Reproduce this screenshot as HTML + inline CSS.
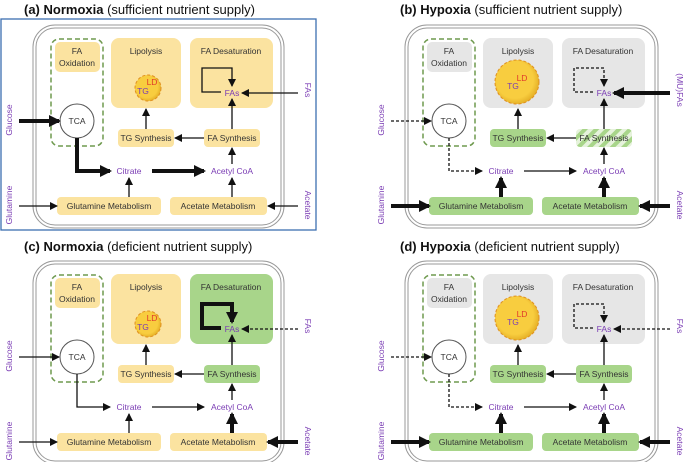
<!DOCTYPE html>
<html><head><meta charset="utf-8"><style>
html,body{margin:0;padding:0;background:#fff;}
svg{display:block;font-family:"Liberation Sans",sans-serif;}
.t{font-size:8.5px;fill:#333;text-anchor:middle;}
.p{font-size:8.5px;fill:#7a3cb4;text-anchor:middle;}
.title{font-size:13px;fill:#111;}
.ln{fill:none;stroke:#111;stroke-width:1.3;}
.thk{fill:none;stroke:#111;stroke-width:4;}
.ds{stroke-dasharray:3,2;}
</style></head><body>
<svg width="685" height="462" viewBox="0 0 685 462" xmlns="http://www.w3.org/2000/svg">
<defs>
<marker id="s" markerUnits="userSpaceOnUse" markerWidth="8" markerHeight="8" refX="7" refY="4" orient="auto"><path d="M0,0 L8,4 L0,8 z" fill="#111"/></marker>
<marker id="b" markerUnits="userSpaceOnUse" markerWidth="12" markerHeight="12" refX="10" refY="6" orient="auto"><path d="M0,0 L12,6 L0,12 z" fill="#111"/></marker>
<pattern id="hatch" patternUnits="userSpaceOnUse" width="8" height="8" patternTransform="rotate(45)"><rect width="8" height="8" fill="#e6f2dc"/><rect width="4" height="8" fill="#a8d58a"/></pattern>
<radialGradient id="ld" cx="0.45" cy="0.45" r="0.6"><stop offset="0.7" stop-color="#f8cd3f"/><stop offset="1" stop-color="#e0a820"/></radialGradient>
</defs>

<text x="24" y="14" class="title"><tspan font-weight="bold">(a) Normoxia</tspan>  (sufficient nutrient supply)</text>
<text x="400" y="14" class="title"><tspan font-weight="bold">(b) Hypoxia</tspan>  (sufficient nutrient supply)</text>
<text x="24" y="251" class="title"><tspan font-weight="bold">(c) Normoxia</tspan>  (deficient nutrient supply)</text>
<text x="400" y="251" class="title"><tspan font-weight="bold">(d) Hypoxia</tspan>  (deficient nutrient supply)</text>
<rect x="1" y="19" width="315" height="211" fill="none" stroke="#3d6fb0" stroke-width="1.3"/>

<!-- PANEL A -->
<g>
<rect x="33" y="25" width="251" height="203" rx="22" fill="none" stroke="#999" stroke-width="1"/>
<rect x="36" y="28" width="245" height="197" rx="19" fill="none" stroke="#999" stroke-width="1"/>
<rect x="55" y="42" width="45" height="30" rx="5" fill="#fbe3a0"/>
<rect x="111" y="38" width="70" height="70" rx="8" fill="#fbe3a0"/>
<rect x="190" y="38" width="83" height="70" rx="8" fill="#fbe3a0"/>
<rect x="51" y="39" width="52" height="107" rx="8" fill="none" stroke="#6f9a4f" stroke-width="1.5" stroke-dasharray="5,3"/>
<text x="77" y="54" class="t">FA</text><text x="77" y="66" class="t">Oxidation</text>
<text x="146" y="54" class="t">Lipolysis</text><text x="231" y="54" class="t">FA Desaturation</text>
<circle cx="148" cy="88" r="13" fill="url(#ld)" stroke="#e09020" stroke-dasharray="3,2"/>
<text x="152" y="85" class="t" style="fill:#e03a2a">LD</text><text x="143" y="94" class="p">TG</text>
<circle cx="77" cy="121" r="17" fill="#fff" stroke="#555"/><text x="77" y="124" class="t">TCA</text>
<rect x="118" y="129" width="56" height="18" rx="4" fill="#fbe3a0"/><text x="146" y="141" class="t">TG Synthesis</text>
<rect x="204" y="129" width="56" height="18" rx="4" fill="#fbe3a0"/><text x="232" y="141" class="t">FA Synthesis</text>
<text x="129" y="174" class="p">Citrate</text><text x="232" y="174" class="p">Acetyl CoA</text>
<text x="232" y="96" class="p">FAs</text>
<rect x="57" y="197" width="104" height="18" rx="4" fill="#fbe3a0"/><text x="109" y="209" class="t">Glutamine Metabolism</text>
<rect x="170" y="197" width="97" height="18" rx="4" fill="#fbe3a0"/><text x="218" y="209" class="t">Acetate Metabolism</text>
<text class="p" transform="translate(12,120) rotate(-90)">Glucose</text>
<text class="p" transform="translate(12,205) rotate(-90)">Glutamine</text>
<text class="p" transform="translate(305,90) rotate(90)">FAs</text>
<text class="p" transform="translate(305,205) rotate(90)">Acetate</text>
<path d="M19,121 L59,121" class="thk" marker-end="url(#b)"/>
<path d="M77,138 L77,171 L110,171" class="thk" marker-end="url(#b)"/>
<path d="M152,171 L204,171" class="thk" marker-end="url(#b)"/>
<path d="M129,197 L129,178" class="ln" marker-end="url(#s)"/>
<path d="M232,197 L232,178" class="ln" marker-end="url(#s)"/>
<path d="M232,164 L232,148" class="ln" marker-end="url(#s)"/>
<path d="M204,138 L175,138" class="ln" marker-end="url(#s)"/>
<path d="M146,129 L146,109" class="ln" marker-end="url(#s)"/>
<path d="M232,129 L232,99" class="ln" marker-end="url(#s)"/>
<path d="M298,93 L242,93" class="ln" marker-end="url(#s)"/>
<path d="M19,206 L57,206" class="ln" marker-end="url(#s)"/>
<path d="M298,206 L268,206" class="ln" marker-end="url(#s)"/>
<path d="M221,92 L202,92 L202,68 L232,68 L232,86" class="ln" marker-end="url(#s)"/>
</g>

<!-- PANEL B -->
<g transform="translate(372,0)">
<rect x="33" y="25" width="253" height="203" rx="22" fill="none" stroke="#999"/>
<rect x="36" y="28" width="247" height="197" rx="19" fill="none" stroke="#999"/>
<rect x="55" y="42" width="45" height="30" rx="5" fill="#e6e6e6"/>
<rect x="111" y="38" width="70" height="70" rx="8" fill="#e6e6e6"/>
<rect x="190" y="38" width="83" height="70" rx="8" fill="#e6e6e6"/>
<rect x="51" y="39" width="52" height="107" rx="8" fill="none" stroke="#6f9a4f" stroke-width="1.5" stroke-dasharray="5,3"/>
<text x="77" y="54" class="t">FA</text><text x="77" y="66" class="t">Oxidation</text>
<text x="146" y="54" class="t">Lipolysis</text><text x="231" y="54" class="t">FA Desaturation</text>
<circle cx="145" cy="82" r="22" fill="url(#ld)" stroke="#e09020" stroke-dasharray="3,2"/>
<text x="150" y="81" class="t" style="fill:#e03a2a">LD</text><text x="141" y="89" class="p">TG</text>
<circle cx="77" cy="121" r="17" fill="#fff" stroke="#555"/><text x="77" y="124" class="t">TCA</text>
<rect x="118" y="129" width="56" height="18" rx="4" fill="#a8d58a"/><text x="146" y="141" class="t">TG Synthesis</text>
<rect x="204" y="129" width="56" height="18" rx="4" fill="url(#hatch)"/><text x="232" y="141" class="t">FA Synthesis</text>
<text x="129" y="174" class="p">Citrate</text><text x="232" y="174" class="p">Acetyl CoA</text>
<text x="232" y="96" class="p">FAs</text>
<rect x="57" y="197" width="104" height="18" rx="4" fill="#a8d58a"/><text x="109" y="209" class="t">Glutamine Metabolism</text>
<rect x="170" y="197" width="97" height="18" rx="4" fill="#a8d58a"/><text x="218" y="209" class="t">Acetate Metabolism</text>
<text class="p" transform="translate(12,120) rotate(-90)">Glucose</text>
<text class="p" transform="translate(12,205) rotate(-90)">Glutamine</text>
<text class="p" transform="translate(305,90) rotate(90)">(MU)FAs</text>
<text class="p" transform="translate(305,205) rotate(90)">Acetate</text>
<path d="M19,121 L59,121" class="ln ds" marker-end="url(#s)"/>
<path d="M77,138 L77,171 L110,171" class="ln ds" marker-end="url(#s)"/>
<path d="M152,171 L204,171" class="ln" marker-end="url(#s)"/>
<path d="M129,197 L129,178" class="thk" marker-end="url(#b)"/>
<path d="M232,197 L232,178" class="thk" marker-end="url(#b)"/>
<path d="M232,164 L232,148" class="ln" marker-end="url(#s)"/>
<path d="M204,138 L175,138" class="ln" marker-end="url(#s)"/>
<path d="M146,129 L146,109" class="ln" marker-end="url(#s)"/>
<path d="M232,129 L232,99" class="ln" marker-end="url(#s)"/>
<path d="M298,93 L242,93" class="thk" marker-end="url(#b)"/>
<path d="M19,206 L57,206" class="thk" marker-end="url(#b)"/>
<path d="M298,206 L268,206" class="thk" marker-end="url(#b)"/>
<path d="M221,92 L202,92 L202,68 L232,68 L232,86" class="ln ds" marker-end="url(#s)"/>
</g>

<!-- PANEL C -->
<g transform="translate(0,236)">
<rect x="33" y="25" width="251" height="203" rx="22" fill="none" stroke="#999"/>
<rect x="36" y="28" width="245" height="197" rx="19" fill="none" stroke="#999"/>
<rect x="55" y="42" width="45" height="30" rx="5" fill="#fbe3a0"/>
<rect x="111" y="38" width="70" height="70" rx="8" fill="#fbe3a0"/>
<rect x="190" y="38" width="83" height="70" rx="8" fill="#a8d58a"/>
<rect x="51" y="39" width="52" height="107" rx="8" fill="none" stroke="#6f9a4f" stroke-width="1.5" stroke-dasharray="5,3"/>
<text x="77" y="54" class="t">FA</text><text x="77" y="66" class="t">Oxidation</text>
<text x="146" y="54" class="t">Lipolysis</text><text x="231" y="54" class="t">FA Desaturation</text>
<circle cx="148" cy="88" r="13" fill="url(#ld)" stroke="#e09020" stroke-dasharray="3,2"/>
<text x="152" y="85" class="t" style="fill:#e03a2a">LD</text><text x="143" y="94" class="p">TG</text>
<circle cx="77" cy="121" r="17" fill="#fff" stroke="#555"/><text x="77" y="124" class="t">TCA</text>
<rect x="118" y="129" width="56" height="18" rx="4" fill="#fbe3a0"/><text x="146" y="141" class="t">TG Synthesis</text>
<rect x="204" y="129" width="56" height="18" rx="4" fill="#a8d58a"/><text x="232" y="141" class="t">FA Synthesis</text>
<text x="129" y="174" class="p">Citrate</text><text x="232" y="174" class="p">Acetyl CoA</text>
<text x="232" y="96" class="p">FAs</text>
<rect x="57" y="197" width="104" height="18" rx="4" fill="#fbe3a0"/><text x="109" y="209" class="t">Glutamine Metabolism</text>
<rect x="170" y="197" width="97" height="18" rx="4" fill="#fbe3a0"/><text x="218" y="209" class="t">Acetate Metabolism</text>
<text class="p" transform="translate(12,120) rotate(-90)">Glucose</text>
<text class="p" transform="translate(12,205) rotate(-90)">Glutamine</text>
<text class="p" transform="translate(305,90) rotate(90)">FAs</text>
<text class="p" transform="translate(305,205) rotate(90)">Acetate</text>
<path d="M19,121 L59,121" class="ln" marker-end="url(#s)"/>
<path d="M77,138 L77,171 L110,171" class="ln" marker-end="url(#s)"/>
<path d="M152,171 L204,171" class="ln" marker-end="url(#s)"/>
<path d="M129,197 L129,178" class="ln" marker-end="url(#s)"/>
<path d="M232,197 L232,178" class="thk" marker-end="url(#b)"/>
<path d="M232,164 L232,148" class="ln" marker-end="url(#s)"/>
<path d="M204,138 L175,138" class="ln" marker-end="url(#s)"/>
<path d="M146,129 L146,109" class="ln" marker-end="url(#s)"/>
<path d="M232,129 L232,99" class="ln" marker-end="url(#s)"/>
<path d="M298,93 L242,93" class="ln ds" marker-end="url(#s)"/>
<path d="M19,206 L57,206" class="ln" marker-end="url(#s)"/>
<path d="M298,206 L268,206" class="thk" marker-end="url(#b)"/>
<path d="M221,92 L202,92 L202,68 L232,68 L232,86" class="thk" marker-end="url(#b)"/>
</g>

<!-- PANEL D -->
<g transform="translate(372,236)">
<rect x="33" y="25" width="253" height="203" rx="22" fill="none" stroke="#999"/>
<rect x="36" y="28" width="247" height="197" rx="19" fill="none" stroke="#999"/>
<rect x="55" y="42" width="45" height="30" rx="5" fill="#e6e6e6"/>
<rect x="111" y="38" width="70" height="70" rx="8" fill="#e6e6e6"/>
<rect x="190" y="38" width="83" height="70" rx="8" fill="#e6e6e6"/>
<rect x="51" y="39" width="52" height="107" rx="8" fill="none" stroke="#6f9a4f" stroke-width="1.5" stroke-dasharray="5,3"/>
<text x="77" y="54" class="t">FA</text><text x="77" y="66" class="t">Oxidation</text>
<text x="146" y="54" class="t">Lipolysis</text><text x="231" y="54" class="t">FA Desaturation</text>
<circle cx="145" cy="82" r="22" fill="url(#ld)" stroke="#e09020" stroke-dasharray="3,2"/>
<text x="150" y="81" class="t" style="fill:#e03a2a">LD</text><text x="141" y="89" class="p">TG</text>
<circle cx="77" cy="121" r="17" fill="#fff" stroke="#555"/><text x="77" y="124" class="t">TCA</text>
<rect x="118" y="129" width="56" height="18" rx="4" fill="#a8d58a"/><text x="146" y="141" class="t">TG Synthesis</text>
<rect x="204" y="129" width="56" height="18" rx="4" fill="#a8d58a"/><text x="232" y="141" class="t">FA Synthesis</text>
<text x="129" y="174" class="p">Citrate</text><text x="232" y="174" class="p">Acetyl CoA</text>
<text x="232" y="96" class="p">FAs</text>
<rect x="57" y="197" width="104" height="18" rx="4" fill="#a8d58a"/><text x="109" y="209" class="t">Glutamine Metabolism</text>
<rect x="170" y="197" width="97" height="18" rx="4" fill="#a8d58a"/><text x="218" y="209" class="t">Acetate Metabolism</text>
<text class="p" transform="translate(12,120) rotate(-90)">Glucose</text>
<text class="p" transform="translate(12,205) rotate(-90)">Glutamine</text>
<text class="p" transform="translate(305,90) rotate(90)">FAs</text>
<text class="p" transform="translate(305,205) rotate(90)">Acetate</text>
<path d="M19,121 L59,121" class="ln ds" marker-end="url(#s)"/>
<path d="M77,138 L77,171 L110,171" class="ln ds" marker-end="url(#s)"/>
<path d="M152,171 L204,171" class="ln" marker-end="url(#s)"/>
<path d="M129,197 L129,178" class="thk" marker-end="url(#b)"/>
<path d="M232,197 L232,178" class="thk" marker-end="url(#b)"/>
<path d="M232,164 L232,148" class="ln" marker-end="url(#s)"/>
<path d="M204,138 L175,138" class="ln" marker-end="url(#s)"/>
<path d="M146,129 L146,109" class="ln" marker-end="url(#s)"/>
<path d="M232,129 L232,99" class="ln" marker-end="url(#s)"/>
<path d="M298,93 L242,93" class="ln ds" marker-end="url(#s)"/>
<path d="M19,206 L57,206" class="thk" marker-end="url(#b)"/>
<path d="M298,206 L268,206" class="thk" marker-end="url(#b)"/>
<path d="M221,92 L202,92 L202,68 L232,68 L232,86" class="ln ds" marker-end="url(#s)"/>
</g>
</svg>
</body></html>
